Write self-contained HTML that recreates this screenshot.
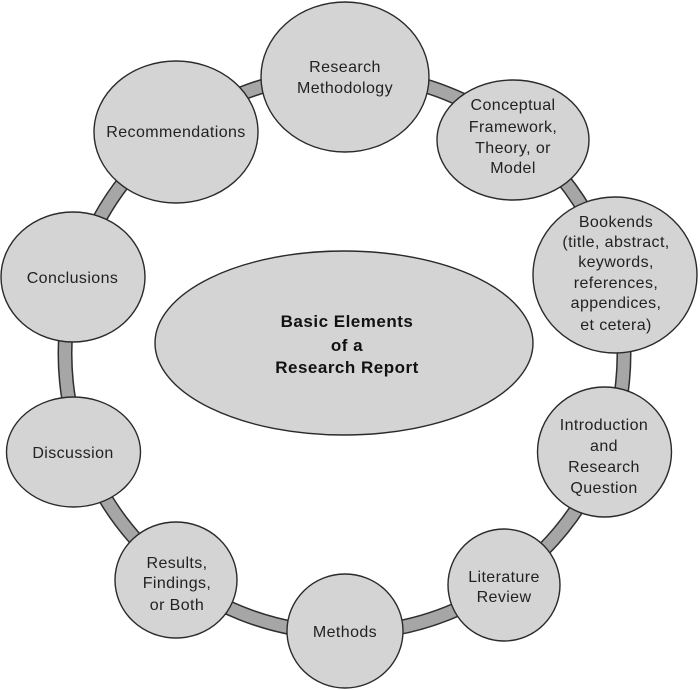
<!DOCTYPE html>
<html>
<head>
<meta charset="utf-8">
<style>
  html,body{margin:0;padding:0;background:#fff;}
  svg{display:block;}
  text{font-family:"Liberation Sans",sans-serif;font-size:16px;fill:#222;letter-spacing:0.4px;text-anchor:middle;}
  .b{font-weight:bold;font-size:17px;letter-spacing:0.5px;fill:#111;}
</style>
</head>
<body>
<svg width="700" height="690" viewBox="0 0 700 690" xmlns="http://www.w3.org/2000/svg">
  <!-- ring connector -->
  <circle cx="344.5" cy="353.5" r="279.5" fill="none" stroke="#2e2e2e" stroke-width="15"/>
  <circle cx="344.5" cy="353.5" r="279.5" fill="none" stroke="#a6a6a6" stroke-width="12"/>

  <g fill="#d4d4d4" stroke="#2a2a2a" stroke-width="1.4">
    <!-- central -->
    <ellipse cx="344" cy="343" rx="189" ry="92"/>
    <!-- nodes -->
    <ellipse cx="345" cy="77" rx="84" ry="75"/>
    <ellipse cx="513" cy="140" rx="76" ry="60"/>
    <ellipse cx="615" cy="275" rx="82" ry="78"/>
    <ellipse cx="604.5" cy="452" rx="67" ry="65"/>
    <ellipse cx="504" cy="585" rx="56" ry="56"/>
    <ellipse cx="345" cy="631" rx="58" ry="57"/>
    <ellipse cx="176" cy="580" rx="61" ry="58"/>
    <ellipse cx="73.5" cy="452" rx="67" ry="55"/>
    <ellipse cx="73" cy="277" rx="72" ry="65"/>
    <ellipse cx="176" cy="132" rx="82" ry="71"/>
  </g>

  <!-- central text -->
  <text class="b" x="347" y="327">Basic Elements</text>
  <text class="b" x="347" y="351">of a</text>
  <text class="b" x="347" y="373">Research Report</text>

  <!-- Research Methodology -->
  <text x="345" y="72">Research</text>
  <text x="345" y="93">Methodology</text>

  <!-- Conceptual -->
  <text x="513" y="110">Conceptual</text>
  <text x="513" y="132">Framework,</text>
  <text x="513" y="153">Theory, or</text>
  <text x="513" y="173">Model</text>

  <!-- Bookends -->
  <text x="616" y="227">Bookends</text>
  <text x="616" y="247">(title, abstract,</text>
  <text x="616" y="267">keywords,</text>
  <text x="616" y="288">references,</text>
  <text x="616" y="308">appendices,</text>
  <text x="616" y="330">et cetera)</text>

  <!-- Introduction -->
  <text x="604" y="430">Introduction</text>
  <text x="604" y="451">and</text>
  <text x="604" y="472">Research</text>
  <text x="604" y="493">Question</text>

  <!-- Literature -->
  <text x="504" y="582">Literature</text>
  <text x="504" y="602">Review</text>

  <!-- Methods -->
  <text x="345" y="637">Methods</text>

  <!-- Results -->
  <text x="177" y="568">Results,</text>
  <text x="177" y="588">Findings,</text>
  <text x="177" y="610">or Both</text>

  <!-- Discussion -->
  <text x="73" y="458">Discussion</text>

  <!-- Conclusions -->
  <text x="72.5" y="283">Conclusions</text>

  <!-- Recommendations -->
  <text x="176" y="137">Recommendations</text>
</svg>
</body>
</html>
